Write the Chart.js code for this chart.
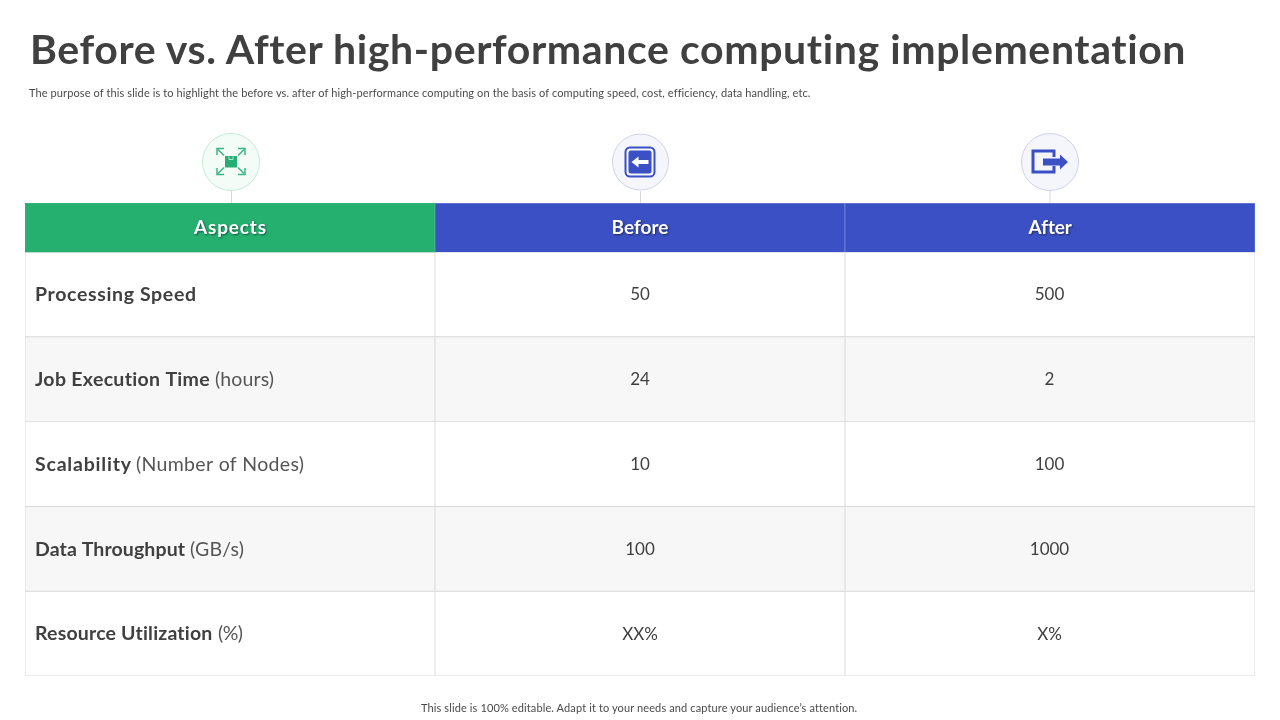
<!DOCTYPE html>
<html>
<head>
<meta charset="utf-8">
<script src="https://cdn.jsdelivr.net/npm/chart.js@4"></script>
<style>
html,body{margin:0;padding:0;background:#fff;width:1280px;height:720px;overflow:hidden}
#c{position:absolute;left:0;top:0;width:1280px;height:720px}
.t{position:absolute;white-space:nowrap;color:#404040;font-family:Lato,sans-serif;line-height:1}
#title{left:30px;top:28px;font-size:41px;font-weight:700}
#sub{left:29px;top:87px;font-size:11px;color:#4a4a4a}
#foot{left:421px;top:702px;font-size:11px;color:#4a4a4a}
svg{position:absolute;left:0;top:0}
</style>
</head>
<body>
<canvas id="c" width="1280" height="720"></canvas>
<span class="t" id="title" data-w="1156">Before vs. After high-performance computing implementation</span>
<span class="t" id="sub" data-w="781">The purpose of this slide is to highlight the before vs. after of high-performance computing on the basis of computing speed, cost, efficiency, data handling, etc.</span>
<span class="t" id="foot" data-w="436">This slide is 100% editable. Adapt it to your needs and capture your audience’s attention.</span>
<svg width="1280" height="210" viewBox="0 0 1280 210">
  <g stroke="#d9d9d9" stroke-width="1"><line x1="231.500" y1="191" x2="231.500" y2="203"/><line x1="640.500" y1="191" x2="640.500" y2="203"/><line x1="1050" y1="191" x2="1050" y2="203"/></g>
  <circle cx="231" cy="162" r="28.500" fill="#f4fcf8" stroke="#c4ead9"/>
  <circle cx="640.500" cy="162" r="28" fill="#f5f6fc" stroke="#cdd1ec"/>
  <circle cx="1050" cy="162" r="28.500" fill="#f5f6fc" stroke="#cdd1ec"/>
  <g fill="none" stroke="#3ab582" stroke-width="1.500">
    <path d="M217 155v-6.500h7M245 155v-6.500h-7M217 168v6.500h7M245 168v6.500h-7"/>
    <path d="M218 149.500l6 6M244 149.500l-6 6M218 173.500l6-6M244 173.500l-6-6"/>
  </g>
  <rect x="225" y="156" width="12" height="11.500" fill="#27ae74"/>
  <path d="M229 156.500v3h4v-3" fill="none" stroke="#d8f3e6" stroke-width="0.800"/>
  <rect x="625.500" y="147.500" width="29" height="29" rx="4.500" fill="none" stroke="#3b50c4" stroke-width="2"/>
  <rect x="628.500" y="150.500" width="23" height="23" rx="2.500" fill="#3b50c4"/>
  <path d="M631.500 162l7-5.500v3.500h10v4h-10v3.500z" fill="#fff"/>
  <path d="M1054 157v-6h-21v21h21v-6" fill="none" stroke="#3b50c4" stroke-width="3"/>
  <path d="M1043 158.500h17v-4l8 7.500-8 7.500v-4h-17z" fill="#3b50c4"/>
</svg>
<script>
const columns = ["Aspects", "Before", "After"];
const aspectNames = ["Processing Speed", "Job Execution Time", "Scalability", "Data Throughput", "Resource Utilization"];
const aspectUnits = ["", "(hours)", "(Number of Nodes)", "(GB/s)", "(%)"];
const beforeValues = ["50", "24", "10", "100", "XX%"];
const afterValues = ["500", "2", "100", "1000", "X%"];

document.querySelectorAll('.t').forEach(el => {
  const n = el.textContent.length - 1;
  el.style.letterSpacing = ((+el.dataset.w - el.getBoundingClientRect().width) / n) + 'px';
});

// layout only: ink widths the row labels are fitted to
const NAME_FIT = [161, 175, 96, 150, 178];
const UNIT_FIT = [0, 59, 168, 54, 25];
const HEADER_FIT = [72, 57, 43];
const HEADER_SPAN = 0.5785;

function fitted(ctx, text, x, y, target) {
  ctx.letterSpacing = '0px';
  const w = ctx.measureText(text).width;
  ctx.letterSpacing = ((target - w) / Math.max(1, text.length - 1)) + 'px';
  ctx.fillText(text, x, y);
  ctx.letterSpacing = '0px';
}

const cellText = {
  id: 'cellText',
  afterDatasetsDraw(chart) {
    const ctx = chart.ctx;
    const ink = '#404040', light = '#555555';
    const FF = 'Lato, sans-serif';
    ctx.save();
    ctx.textBaseline = 'middle';
    const headerMeta = chart.getDatasetMeta(0);
    columns.forEach((name, c) => {
      const b = headerMeta.data[c];
      ctx.save();
      ctx.font = '700 19px ' + FF;
      ctx.textAlign = 'left';
      ctx.fillStyle = '#fff';
      ctx.shadowColor = 'rgba(0,0,0,0.5)';
      ctx.shadowBlur = 2;
      ctx.shadowOffsetX = 1;
      ctx.shadowOffsetY = 1;
      fitted(ctx, name, b.x - HEADER_FIT[c] / 2, (b.y + b.base) / 2, HEADER_FIT[c]);
      ctx.restore();
    });
    aspectNames.forEach((name, r) => {
      const meta = chart.getDatasetMeta(r + 1);
      const first = meta.data[0];
      const cy = (first.y + first.base) / 2 + 0.5;
      const left = first.x - first.width / 2 + 10;
      ctx.textAlign = 'left';
      ctx.font = '700 19.5px ' + FF;
      ctx.fillStyle = ink;
      fitted(ctx, name, left, cy, NAME_FIT[r]);
      if (aspectUnits[r]) {
        ctx.font = '400 19.5px ' + FF;
        ctx.fillStyle = light;
        fitted(ctx, aspectUnits[r], left + NAME_FIT[r] + 5, cy, UNIT_FIT[r]);
      }
      ctx.font = '400 17px ' + FF;
      ctx.fillStyle = ink;
      ctx.textAlign = 'center';
      ctx.fillText(beforeValues[r], meta.data[1].x, cy);
      ctx.fillText(afterValues[r], meta.data[2].x - 0.5, cy);
    });
    ctx.restore();
  }
};

const headerDataset = {
  label: 'Header',
  data: columns.map(() => [-HEADER_SPAN, 0]),
  backgroundColor: ['#25b070', '#3b50c4', '#3b50c4'],
  borderColor: ['#25b070', '#c5cbee', '#c5cbee'],
  borderWidth: 0.5
};
const rowDatasets = aspectNames.map((name, r) => ({
  label: name,
  data: columns.map(() => [r, r + 1]),
  backgroundColor: r % 2 ? '#f7f7f7' : '#ffffff',
  borderColor: '#d9d9d9',
  borderWidth: 0.8
}));

new Chart(document.getElementById('c'), {
  type: 'bar',
  data: { labels: columns, datasets: [headerDataset, ...rowDatasets] },
  options: {
    responsive: false,
    devicePixelRatio: 1,
    animation: false,
    events: [],
    layout: { padding: { left: 25, right: 25, top: 203, bottom: 44 } },
    datasets: { bar: { grouped: false, categoryPercentage: 1, barPercentage: 1, borderSkipped: false } },
    plugins: { legend: { display: false }, tooltip: { enabled: false }, title: { display: false } },
    scales: {
      x: { display: false },
      y: { display: false, reverse: true, min: -HEADER_SPAN, max: aspectNames.length }
    }
  },
  plugins: [cellText]
});
</script>
</body>
</html>
